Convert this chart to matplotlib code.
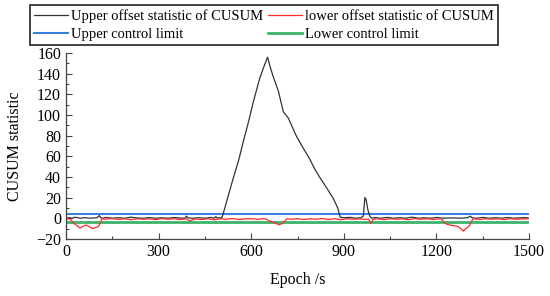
import matplotlib
matplotlib.use("Agg")
import matplotlib.pyplot as plt
from matplotlib.ticker import MultipleLocator

plt.rcParams["font.family"] = ["Liberation Serif", "DejaVu Serif"]
plt.rcParams["font.size"] = 10

# upper offset statistic (epoch, value)
epoch_up = [0, 10, 20, 30, 45, 60, 80, 100, 108, 112, 118, 130, 150, 170, 190,
            210, 230, 250, 270, 290, 310, 330, 350, 370, 385, 390, 395, 410, 430,
            450, 470, 480, 485, 490, 500, 506, 520, 542, 560, 574, 590, 607, 628,
            645, 653, 660, 669, 688, 704, 712, 720, 747, 770, 790, 805, 823, 845,
            866, 880, 888, 900, 920, 940, 955, 963, 968, 972, 978, 984, 990, 1000,
            1020, 1040, 1060, 1080, 1100, 1120, 1140, 1160, 1180, 1200, 1220, 1250,
            1280, 1300, 1310, 1315, 1330, 1350, 1370, 1390, 1410, 1430, 1450, 1470,
            1490, 1500]
upper_stat = [0, 0.5, 0, 1, 0, 0.5, 0, 0.5, 2.5, 0.5, 0, 0.8, 0, 0.5, 0,
              1, 0.3, 0, 0.6, 0, 0.4, 0, 0.7, 0.2, 0, 2.0, 0.3, 0, 0.5,
              0, 0.8, 0, 1.5, 0.2, 0.5, 1, 16, 39, 57, 74, 92, 113, 136,
              150, 156, 148, 139, 123, 103, 100, 97, 79, 67, 57, 48, 39, 29,
              19, 10, 1, 0.5, 0.8, 0, 0.5, 2, 20, 18, 8, 2, 0, 0.6,
              0, 0.8, 0, 0.5, 0, 1, 0, 0.4, 0, 0.7, 0, 0.3,
              0, 0.5, 2.0, 0.4, 0, 0.8, 0, 0.5, 0, 0.7, 0, 0.4,
              0.6, 0]

# lower offset statistic (epoch, value)
epoch_low = [0, 10, 18, 25, 35, 45, 55, 65, 75, 85, 95, 105, 112, 116, 130,
             150, 170, 190, 210, 230, 250, 270, 290, 310, 330, 350, 370, 390,
             400, 420, 440, 460, 480, 500, 520, 540, 560, 580, 600, 620, 640,
             650, 660, 670, 680, 690, 700, 708, 715, 730, 750, 770, 790, 810,
             830, 850, 870, 890, 910, 930, 950, 970, 980, 987, 995, 1010, 1030,
             1050, 1070, 1090, 1110, 1130, 1150, 1170, 1190, 1210, 1217, 1225,
             1235, 1250, 1265, 1275, 1287, 1295, 1305, 1312, 1319, 1340, 1360,
             1380, 1400, 1420, 1440, 1460, 1480, 1500]
lower_stat = [-1, -0.5, -2, -5, -7, -9.5, -8, -6.5, -8, -10, -9, -8, -4, -0.5, -1,
              -0.3, -1.2, -0.5, -1.5, -0.4, -1, -0.6, -1.4, -0.3, -1, -0.5, -1.3, -0.6,
              -2.5, -0.8, -1.2, -0.4, -1.6, -0.5, -0.9, -0.3, -1.2, -0.6, -0.4, -1, -0.5,
              -1, -3, -3.5, -5, -6.5, -5, -3, -0.5, -1, -0.4, -1.3, -0.6, -1,
              -0.3, -1.2, -0.5, -1.5, -0.4, -1, -0.6, -1.2, -0.8, -5, -1, -0.5, -1.4,
              -0.4, -1, -0.6, -1.5, -0.3, -1, -0.5, -1.2, -0.6, -1, -4,
              -6, -7, -7.5, -9, -12.5, -10, -8, -4, -0.5, -1.2, -0.4,
              -1, -0.6, -1.3, -0.4, -1, -0.7, -0.5]

upper_limit = 4
lower_limit = -3.5
epoch_range = [0, 1500]

fig = plt.figure(figsize=(5.5, 2.96), dpi=100)
ax = fig.add_axes([0.12, 0.193, 0.842, 0.628])

l_blue, = ax.plot(epoch_range, [upper_limit] * 2, color="#3a7ee0", lw=1.5,
                  label="Upper control limit")
l_green, = ax.plot(epoch_range, [lower_limit] * 2, color="#3cb36a", lw=2.0,
                   label="Lower control limit")
l_black, = ax.plot(epoch_up, upper_stat, color="#333333", lw=0.9,
                   label="Upper offset statistic of CUSUM")
l_red, = ax.plot(epoch_low, lower_stat, color="#ff2a2a", lw=0.9,
                 label="lower offset statistic of CUSUM")

ax.set_xlim(0, 1500)
ax.set_ylim(-20, 160)
ax.xaxis.set_major_locator(MultipleLocator(300))
ax.xaxis.set_minor_locator(MultipleLocator(150))
ax.yaxis.set_major_locator(MultipleLocator(20))
ax.yaxis.set_minor_locator(MultipleLocator(10))
ax.tick_params(which="both", direction="in", color="#444444", labelsize=11.5)
ax.tick_params(which="major", length=4.5, width=0.8)
ax.tick_params(which="minor", length=2.5, width=0.8)
for side in ["top", "right"]:
    ax.spines[side].set_visible(False)
for side in ["left", "bottom"]:
    ax.spines[side].set_color("#444444")
    ax.spines[side].set_linewidth(0.9)

ax.set_xlabel("Epoch /s", fontsize=11.5)
ax.set_ylabel("CUSUM statistic", fontsize=11.5)
ax.xaxis.set_label_coords(0.5, -0.18)
ax.yaxis.set_label_coords(-0.092, 0.5)

leg = fig.legend(handles=[l_black, l_blue, l_red, l_green], ncol=2,
                 loc="upper left", bbox_to_anchor=(30 / 550, 1 - 5 / 296),
                 fancybox=False, framealpha=1, edgecolor="#222222",
                 fontsize=10.5, handlelength=2.3, handletextpad=0.2,
                 columnspacing=0.35, borderpad=0.3, labelspacing=0.3,
                 borderaxespad=0)
leg.get_frame().set_linewidth(1.2)

fig.savefig("out.png", dpi=100)
